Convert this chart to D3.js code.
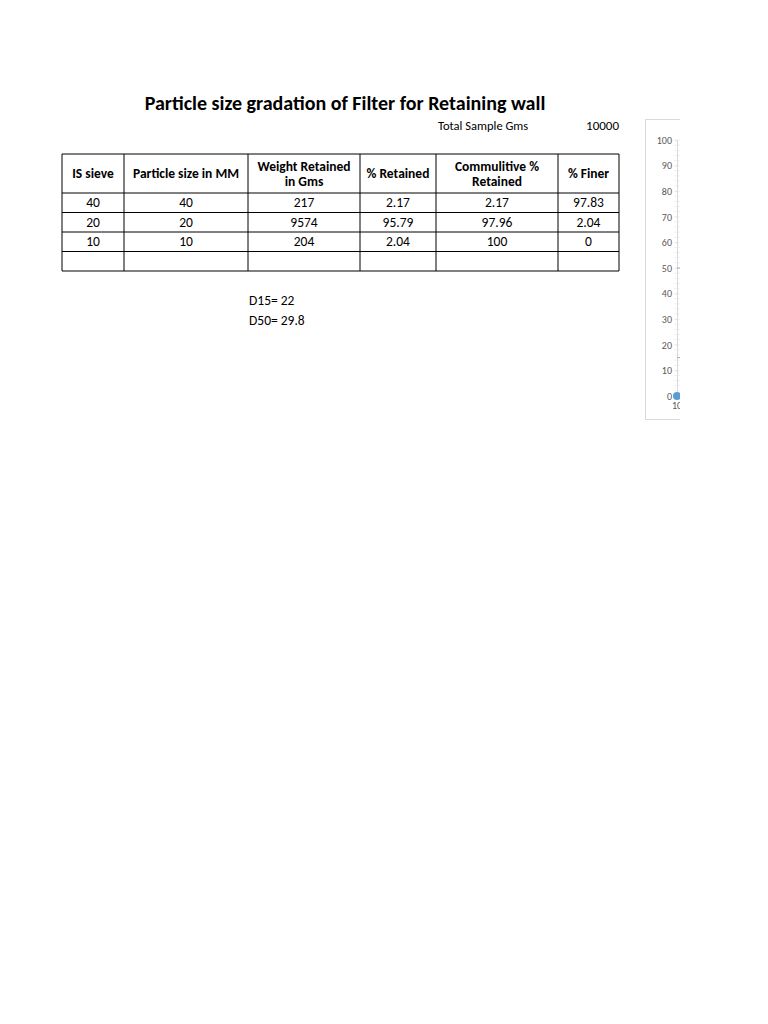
<!DOCTYPE html>
<html>
<head>
<meta charset="utf-8">
<script src="https://cdn.jsdelivr.net/npm/d3@7"></script>
<style>
  body { margin: 0; background: #fff; }
  text { font-family: Carlito, Lato, "Open Sans", sans-serif; }
</style>
</head>
<body>
<script>
// sieve data
const headers = [["IS sieve"], ["Particle size in MM"], ["Weight Retained", "in Gms"], ["% Retained"], ["Commulitive %", "Retained"], ["% Finer"]];
const sieve = [40, 20, 10];
const sizeMM = [40, 20, 10];
const weight = [217, 9574, 204];
const retained = [2.17, 95.79, 2.04];
const cumulative = [2.17, 97.96, 100];
const finer = [97.83, 2.04, 0];
const totalSample = 10000;
const dLines = [["D15", 22, 15], ["D50", 29.8, 50]];
const yTicks = [0, 10, 20, 30, 40, 50, 60, 70, 80, 90, 100];

const width = 768, height = 1024;
let svg = d3.select("body").append("svg")
  .attr("width", width).attr("height", height);
svg.append("rect").attr("width", width).attr("height", height).attr("fill", "#fff");

// title
svg.append("text")
  .attr("x", 345).attr("y", 110)
  .attr("text-anchor", "middle")
  .attr("font-size", 20).attr("font-weight", "bold")
  .attr("fill", "#000")
  .text("Particle size gradation of Filter for Retaining wall");
svg.append("text").attr("x", 438).attr("y", 130)
  .attr("font-size", 12.5).attr("fill", "#000").text("Total Sample Gms");
svg.append("text").attr("x", 619).attr("y", 130).attr("text-anchor", "end")
  .attr("font-size", 13).attr("fill", "#000").text(totalSample);

// table
const colEdges = [62, 124, 248, 360, 436, 558, 619];
const rowEdges = [154, 193, 212.5, 232, 251.5, 271];
let rows = sieve.map((s, i) => [s, sizeMM[i], weight[i], retained[i], cumulative[i], finer[i]]);
rows.push(["", "", "", "", "", ""]);

let tbl = svg.append("g");
tbl.selectAll("line.h").data(rowEdges).join("line")
  .attr("x1", colEdges[0]).attr("x2", colEdges[colEdges.length - 1])
  .attr("y1", d => d).attr("y2", d => d)
  .attr("stroke", "#000").attr("stroke-width", 1);
tbl.selectAll("line.v").data(colEdges).join("line")
  .attr("y1", rowEdges[0]).attr("y2", rowEdges[rowEdges.length - 1])
  .attr("x1", d => d).attr("x2", d => d)
  .attr("stroke", "#000").attr("stroke-width", 1);

let cx = i => (colEdges[i] + colEdges[i + 1]) / 2;
headers.forEach((h, i) => {
  let t = tbl.append("text")
    .attr("x", cx(i)).attr("text-anchor", "middle")
    .attr("font-size", 13.5).attr("font-weight", "bold").attr("fill", "#000");
  let yMid = (rowEdges[0] + rowEdges[1]) / 2;
  h.forEach((line, k) => {
    t.append("tspan").attr("x", cx(i))
      .attr("y", yMid + 4.5 + (k - (h.length - 1) / 2) * 15)
      .text(line);
  });
});
rows.forEach((r, ri) => {
  r.forEach((v, ci) => {
    tbl.append("text")
      .attr("x", cx(ci)).attr("y", (rowEdges[ri + 1] + rowEdges[ri + 2]) / 2 + 4.5)
      .attr("text-anchor", "middle").attr("font-size", 13.5).attr("fill", "#000")
      .text(v);
  });
});

// D values
svg.selectAll("text.dval").data(dLines).join("text")
  .attr("class", "dval")
  .attr("x", 249).attr("y", (d, i) => 305 + i * 20)
  .attr("font-size", 13.5).attr("fill", "#000")
  .text(d => d[0] + "= " + d[1]);

// chart (only left edge visible in the page)
let chart = svg.append("g");
chart.append("rect")
  .attr("x", 645.5).attr("y", 119.5).attr("width", 300).attr("height", 300)
  .attr("fill", "#fff").attr("stroke", "#d9d9d9");

let x = d3.scaleLog().domain([10, 100]).range([677, 940]);
let y = d3.scaleLinear().domain([0, 100]).range([396, 140]);

svg.append("clipPath").attr("id", "cut")
  .append("rect").attr("x", 0).attr("y", 0).attr("width", 680).attr("height", height);
chart.attr("clip-path", "url(#cut)");

// minor ticks
chart.selectAll("line.minor").data(d3.range(0, 101, 2)).join("line")
  .attr("x1", 674).attr("x2", 680)
  .attr("y1", d => y(d)).attr("y2", d => y(d))
  .attr("stroke", "#eeeeee").attr("stroke-width", 0.8);

let yAxis = chart.append("g")
  .attr("transform", "translate(" + x(10) + ",0)")
  .call(d3.axisLeft(y).tickValues(yTicks).tickSize(2).tickPadding(3));
yAxis.select(".domain").attr("stroke", "#d9d9d9");
yAxis.selectAll(".tick line").attr("stroke", "#e6e6e6");
yAxis.selectAll(".tick text")
  .attr("fill", "#595959").attr("font-size", 10)
  .attr("font-family", "Carlito, Lato, sans-serif");

// D15 / D50 reference lines
chart.selectAll("line.dref").data(dLines).join("line")
  .attr("x1", x(10)).attr("x2", x(100))
  .attr("y1", d => y(d[2])).attr("y2", d => y(d[2]))
  .attr("stroke", "#8faadc").attr("stroke-width", 1);

// gradation curve
let pts = sizeMM.map((s, i) => [s, finer[i]]);
chart.append("path").datum(pts)
  .attr("fill", "none").attr("stroke", "#5b9bd5").attr("stroke-width", 2)
  .attr("d", d3.line().x(d => x(d[0])).y(d => y(d[1])));
chart.selectAll("circle.pt").data(pts).join("circle")
  .attr("cx", d => x(d[0])).attr("cy", d => y(d[1])).attr("r", 4)
  .attr("fill", "#5b9bd5");

// x axis label (cut)
chart.append("text")
  .attr("x", x(10)).attr("y", 409).attr("text-anchor", "middle")
  .attr("font-size", 10).attr("fill", "#595959")
  .text(sizeMM[2]);
</script>
</body>
</html>
